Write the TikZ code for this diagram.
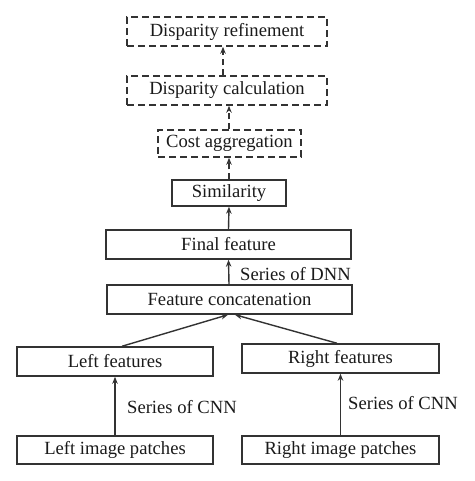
\documentclass[tikz,border=0pt]{standalone}
\usepackage{fontspec}
\setmainfont{Liberation Serif}
\usetikzlibrary{arrows.meta,calc}
\definecolor{ln}{HTML}{333333}
\definecolor{tx}{HTML}{1A1A1A}
\begin{document}
\begin{tikzpicture}[x=1pt,y=-1pt,
  box/.style={draw=ln,line width=1.5pt,inner sep=0pt,text=tx,font=\fontsize{18.6}{20}\selectfont},
  dbox/.style={box,dash pattern=on 7pt off 4pt},
  arr/.style={draw=ln,line width=1.4pt,-{Stealth[length=7pt,width=5.5pt]}},
  darr/.style={arr,dash pattern=on 6pt off 4pt},
  lbl/.style={text=tx,font=\fontsize{18.6}{20}\selectfont,inner sep=0pt,anchor=west}]
\useasboundingbox (0,0) rectangle (474,481);
\node[dbox,minimum width=200pt,minimum height=29pt] (ref) at (227,31.5) {Disparity refinement};
\node[dbox,minimum width=200pt,minimum height=29pt] (calc) at (227,90.5) {Disparity calculation};
\node[dbox,minimum width=143pt,minimum height=27pt] (cost) at (229.5,143.5) {Cost aggregation};
\node[box,minimum width=114pt,minimum height=26pt] (sim) at (229,193) {Similarity};
\node[box,minimum width=245pt,minimum height=29pt] (fin) at (228.5,244.5) {Final feature};
\node[box,minimum width=245pt,minimum height=29pt] (cat) at (229.5,299.5) {Feature concatenation};
\node[box,minimum width=196pt,minimum height=29pt] (lf) at (115,361.5) {Left features};
\node[box,minimum width=197pt,minimum height=29pt] (rf) at (340.5,358.5) {Right features};
\node[box,minimum width=196pt,minimum height=28pt] (lp) at (115,450) {Left image patches};
\node[box,minimum width=197pt,minimum height=28pt] (rp) at (340.5,450) {Right image patches};
\draw[arr] (lp.north) -- (lf.south);
\draw[arr] (rp.north) -- (rf.south);
\draw[arr] ($(lf.north)+(7,0)$) -- ($(cat.south)+(-1.5,0)$);
\draw[arr] ($(rf.north)+(-3.5,0)$) -- ($(cat.south)+(5.5,0)$);
\draw[arr] ($(cat.north)+(-0.5,0)$) -- (fin.south);
\draw[arr] (fin.south |- fin.north) -- (sim.south);
\draw[darr] (sim.north) -- (cost.south -| sim.north);
\draw[darr] ($(cost.north)+(-0.5,0)$) -- ($(calc.south)+(2,0)$);
\draw[darr] ($(calc.north)+(-4,0)$) -- ($(ref.south)+(-4,0)$);
\node[lbl] (dnn) at (240,274) {Series of DNN};
\node[lbl] (cnnl) at (127,407) {Series of CNN};
\node[lbl] (cnnr) at (348,403) {Series of CNN};
\end{tikzpicture}
\end{document}
